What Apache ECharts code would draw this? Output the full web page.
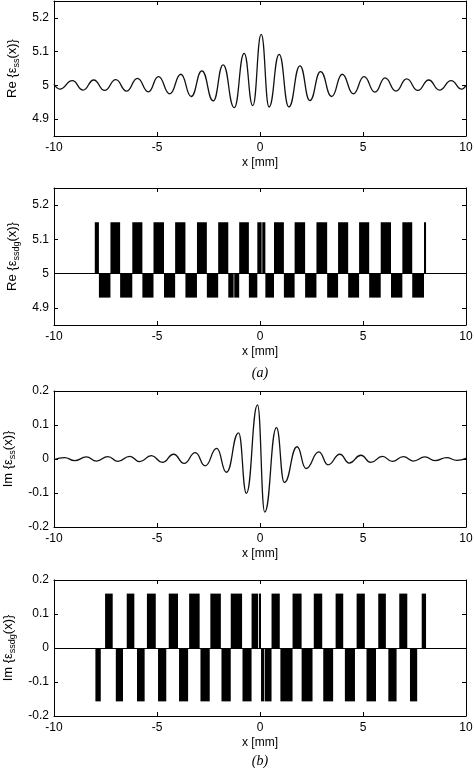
<!DOCTYPE html>
<html>
<head>
<meta charset="utf-8">
<script src="https://cdn.jsdelivr.net/npm/echarts@6/dist/echarts.min.js"></script>
<style>
html, body { margin: 0; padding: 0; background: #fff; }
#chart { width: 474px; height: 768px; }
</style>
</head>
<body>
<div id="chart"></div>
<script>
// tick labels
var xTicks = [-10, -5, 0, 5, 10];
var reTicks = [4.9, 5, 5.1, 5.2];
var imTicks = [-0.2, -0.1, 0, 0.1, 0.2];

// Re{eps_ss(x)} read at the turning points of the curve
var reX = [-10, -9.72, -9.11, -8.59, -8.07, -7.54, -7.0, -6.48, -5.95, -5.42, -4.93, -4.38, -3.84, -3.34, -2.82, -2.27, -1.79, -1.25, -0.77, -0.35,
	0.06, 0.44, 0.93, 1.40, 1.94, 2.42, 2.94, 3.48, 3.99, 4.53, 5.05, 5.58, 6.07, 6.60, 7.12, 7.66, 8.19, 8.71, 9.28, 9.79, 10];
var reY = [5.004, 4.989, 5.014, 4.986, 5.016, 4.985, 5.017, 4.983, 5.021, 4.981, 5.026, 4.975, 5.033, 4.967, 5.043, 4.954, 5.061, 4.934, 5.095, 4.940,
	5.151, 4.936, 5.092, 4.936, 5.058, 4.955, 5.041, 4.967, 5.033, 4.975, 5.026, 4.980, 5.022, 4.983, 5.019, 4.985, 5.016, 4.986, 5.014, 4.989, 5.0];

// Im{eps_ss(x)}
var imX = [-10, -9.48, -9.0, -8.43, -7.94, -7.38, -6.89, -6.32, -5.84, -5.27, -4.74, -4.19, -3.68, -3.14, -2.66, -2.10, -1.63, -1.04, -0.66, -0.12,
	0.23, 0.80, 1.18, 1.80, 2.23, 2.86, 3.30, 3.88, 4.33, 4.90, 5.38, 5.94, 6.42, 6.96, 7.44, 8.01, 8.49, 9.06, 9.55, 10];
var imY = [-0.002, 0.004, -0.005, 0.006, -0.006, 0.007, -0.007, 0.008, -0.008, 0.010, -0.010, 0.014, -0.013, 0.019, -0.020, 0.031, -0.039, 0.077, -0.101, 0.159,
	-0.156, 0.092, -0.069, 0.036, -0.028, 0.021, -0.017, 0.014, -0.012, 0.011, -0.010, 0.008, -0.007, 0.007, -0.006, 0.006, -0.005, 0.004, -0.004, 0.002];

// Re{eps_ssdg(x)} blocks: start, end, level
var reBase = 5;
var reStart = [-8.02, -7.82, -7.26, -6.79, -6.20, -5.71, -5.17, -4.66, -4.12, -3.62, -3.06, -2.58, -2.03, -1.54, -1.25, -1.01, -0.54, -0.13,
	0.11, 0.26, 0.68, 1.16, 1.68, 2.19, 2.74, 3.26, 3.79, 4.28, 4.81, 5.30, 5.86, 6.36, 6.91, 7.39, 7.96];
var reEnd = [-7.82, -7.26, -6.79, -6.20, -5.71, -5.17, -4.66, -4.12, -3.62, -3.06, -2.58, -2.03, -1.54, -1.28, -1.01, -0.54, -0.13, 0.08,
	0.26, 0.68, 1.16, 1.68, 2.19, 2.74, 3.26, 3.79, 4.28, 4.81, 5.30, 5.86, 6.36, 6.91, 7.39, 7.96, 8.06];
var reLevel = [5.15, 4.93, 5.15, 4.93, 5.15, 4.93, 5.15, 4.93, 5.15, 4.93, 5.15, 4.93, 5.15, 4.93, 4.93, 5.15, 4.93, 5.15,
	5.15, 4.93, 5.15, 4.93, 5.15, 4.93, 5.15, 4.93, 5.15, 4.93, 5.15, 4.93, 5.15, 4.93, 5.15, 4.93, 5.15];

// Im{eps_ssdg(x)} blocks
var imBase = 0;
var imStart = [-7.99, -7.52, -7.00, -6.47, -5.97, -5.49, -4.95, -4.43, -3.93, -3.44, -2.89, -2.41, -1.87, -1.42, -0.85, -0.41, -0.05,
	0.05, 0.23, 0.56, 0.99, 1.58, 2.02, 2.61, 3.07, 3.67, 4.12, 4.69, 5.17, 5.74, 6.23, 6.76, 7.28, 7.85];
var imEnd = [-7.73, -7.15, -6.65, -6.10, -5.60, -5.06, -4.55, -3.98, -3.49, -2.93, -2.44, -1.90, -1.42, -0.87, -0.41, -0.09, 0.05,
	0.20, 0.56, 0.96, 1.58, 2.02, 2.55, 3.02, 3.55, 4.04, 4.61, 5.09, 5.63, 6.11, 6.63, 7.15, 7.63, 8.06];
var imLevel = [-0.157, 0.16, -0.157, 0.16, -0.157, 0.16, -0.157, 0.16, -0.157, 0.16, -0.157, 0.16, -0.157, 0.16, -0.157, 0.16, 0.16,
	-0.157, -0.157, 0.16, -0.157, 0.16, -0.157, 0.16, -0.157, 0.16, -0.157, 0.16, -0.157, 0.16, -0.157, 0.16, -0.157, 0.16];

var font = 'Liberation Sans';
var panels = [
	{ top: 1, height: 135, min: 4.85, max: 5.25, ticks: reTicks, name: 'Re {ε{s|ss}(x)}' },
	{ top: 188, height: 137, min: 4.85, max: 5.25, ticks: reTicks, name: 'Re {ε{s|ssdg}(x)}' },
	{ top: 391, height: 136, min: -0.2, max: 0.2, ticks: imTicks, name: 'Im {ε{s|ss}(x)}' },
	{ top: 580, height: 136, min: -0.2, max: 0.2, ticks: imTicks, name: 'Im {ε{s|ssdg}(x)}' }
];

function zip(a, b) {
	var out = [];
	for (var i = 0; i < a.length; i++) out.push([a[i], b[i]]);
	return out;
}
function blocks(s, e, l) {
	var out = [];
	for (var i = 0; i < s.length; i++) out.push([s[i], e[i], l[i]]);
	return out;
}
function blockItem(base) {
	return function (params, api) {
		var p0 = api.coord([api.value(0), api.value(2)]);
		var p1 = api.coord([api.value(1), base]);
		return {
			type: 'rect',
			shape: { x: p0[0], y: Math.min(p0[1], p1[1]), width: p1[0] - p0[0], height: Math.abs(p1[1] - p0[1]) },
			style: { fill: '#000' }
		};
	};
}

var grids = [], xAxes = [], yAxes = [];
panels.forEach(function (p, i) {
	grids.push({ left: 54, right: 8, top: p.top, height: p.height, containLabel: false, outerBoundsMode: 'none' });
	var line = { onZero: false, lineStyle: { color: '#000', width: 1 } };
	var tickX = { inside: true, length: 4, customValues: xTicks, lineStyle: { color: '#000' } };
	var tickY = { inside: true, length: 4, customValues: p.ticks, lineStyle: { color: '#000' } };
	xAxes.push({
		gridIndex: i, type: 'value', position: 'bottom', min: -10, max: 10,
		axisLine: line, axisTick: tickX, splitLine: { show: false },
		axisLabel: { customValues: xTicks, color: '#000', fontFamily: font, fontSize: 12, margin: 6 },
		name: 'x [mm]', nameLocation: 'middle', nameGap: 21,
		nameTextStyle: { color: '#000', fontFamily: font, fontSize: 12 }
	});
	xAxes.push({
		gridIndex: i, type: 'value', position: 'top', min: -10, max: 10,
		axisLine: line, axisTick: tickX, splitLine: { show: false }, axisLabel: { show: false }
	});
	yAxes.push({
		gridIndex: i, type: 'value', position: 'left', min: p.min, max: p.max,
		axisLine: line, axisTick: tickY, splitLine: { show: false },
		axisLabel: { customValues: p.ticks, color: '#000', fontFamily: font, fontSize: 12, margin: 5 },
		name: p.name, nameLocation: 'middle', nameGap: 28,
		nameTextStyle: {
			color: '#000', fontFamily: font, fontSize: 13, lineHeight: 18,
			rich: { s: { color: '#000', fontFamily: font, fontSize: 9, lineHeight: 9, verticalAlign: 'bottom' } }
		}
	});
	yAxes.push({
		gridIndex: i, type: 'value', position: 'right', min: p.min, max: p.max,
		axisLine: line, axisTick: tickY, splitLine: { show: false }, axisLabel: { show: false }
	});
});

var baseLine = function (v) {
	return { silent: true, symbol: 'none', label: { show: false }, lineStyle: { color: '#000', type: 'solid', width: 1 }, data: [{ yAxis: v }] };
};

var chart = echarts.init(document.getElementById('chart'));
chart.setOption({
	animation: false,
	backgroundColor: '#fff',
	grid: grids,
	xAxis: xAxes,
	yAxis: yAxes,
	series: [{
		type: 'line', xAxisIndex: 0, yAxisIndex: 0, data: zip(reX, reY),
		showSymbol: false, smooth: 0.5, smoothMonotone: 'x', silent: true,
		lineStyle: { color: '#111', width: 1.3 }
	}, {
		type: 'custom', xAxisIndex: 2, yAxisIndex: 2, data: blocks(reStart, reEnd, reLevel),
		encode: { x: [0, 1], y: 2 }, renderItem: blockItem(reBase), silent: true,
		markLine: baseLine(reBase)
	}, {
		type: 'line', xAxisIndex: 4, yAxisIndex: 4, data: zip(imX, imY),
		showSymbol: false, smooth: 0.5, smoothMonotone: 'x', silent: true,
		lineStyle: { color: '#111', width: 1.3 }
	}, {
		type: 'custom', xAxisIndex: 6, yAxisIndex: 6, data: blocks(imStart, imEnd, imLevel),
		encode: { x: [0, 1], y: 2 }, renderItem: blockItem(imBase), silent: true,
		markLine: baseLine(imBase)
	}],
	graphic: [
		{ type: 'text', x: 260, y: 373, style: { text: '(a)', font: 'italic 14px "Liberation Serif"', fill: '#000', align: 'center', verticalAlign: 'middle' } },
		{ type: 'text', x: 260, y: 761, style: { text: '(b)', font: 'italic 14px "Liberation Serif"', fill: '#000', align: 'center', verticalAlign: 'middle' } }
	]
});
</script>
</body>
</html>
